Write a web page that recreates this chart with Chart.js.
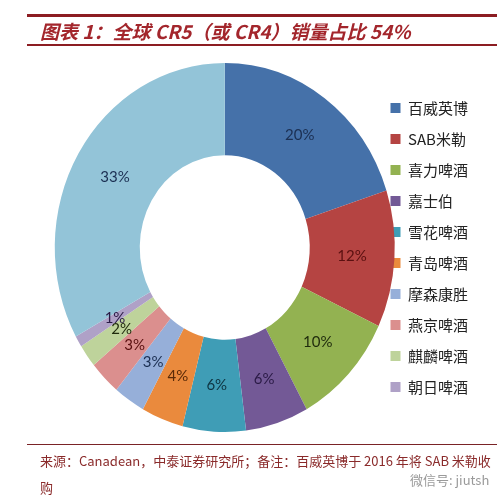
<!DOCTYPE html>
<html>
<head>
<meta charset="utf-8">
<script src="https://cdn.jsdelivr.net/npm/chart.js@4"></script>
<style>
  html, body { margin: 0; padding: 0; background: #fff; }
  #wrap { position: relative; width: 502px; height: 502px; overflow: hidden; }
  #chart { position: absolute; left: 0; top: 0; }
  #title {
    position: absolute; left: 27px; top: 14px; width: 457px; height: 27px;
    border-top: 3px solid #8c1d22; border-bottom: 2px solid #8c1d22;
    font: italic bold 19px "Noto Sans CJK SC", sans-serif; color: #a3262c;
    line-height: 27px; padding-left: 13px; box-sizing: content-box;
  }
  #foot {
    position: absolute; left: 27px; top: 444px; width: 457px;
    border-top: 1px solid #7a2326;
    font: 13px "Noto Sans CJK SC", sans-serif; color: #8a2a2a;
    line-height: 27px; padding-left: 13px; padding-top: 2px;
  }
  #mark {
    position: absolute; left: 410px; top: 470px;
    font: 13px "Noto Sans CJK SC", sans-serif; color: #9a9a9a;
  }
</style>
</head>
<body>
<div id="wrap">
  <canvas id="chart" width="502" height="502"></canvas>
  <div id="title">图表 1：全球 CR5（或 CR4）销量占比 54%</div>
  <div id="foot">来源：Canadean，中泰证券研究所；备注：百威英博于 2016 年将 SAB 米勒收<br>购</div>
  <div id="mark">微信号: jiutsh</div>
</div>
<script>
// shares in percent, clockwise from 12 o'clock
var brands = "百威英博, SAB米勒, 喜力啤酒, 嘉士伯, 雪花啤酒, 青岛啤酒, 摩森康胜, 燕京啤酒, 麒麟啤酒, 朝日啤酒".split(", ");
var others = "其他";
var shares = [20, 12, 10, 6, 6, 4, 3, 3, 2, 1, 33];
var colors = ['#4571a9', '#b54442', '#93b251', '#735996', '#3f9db6', '#ea8a3d',
              '#96afd9', '#db8f8e', '#bed39b', '#afa1c7', '#93c4d8'];
var labelColors = ['#1b2f52', '#5a1010', '#1f2a0c', '#2a1a45', '#0d3340', '#5a2a08',
                   '#1b2f52', '#5a1010', '#1f2a0c', '#2a1a45', '#1b2f52'];

var squashX = 170 / 184.5; // reference ring is a bit taller than wide

var ellipse = {
  id: 'ellipse',
  beforeDatasetsDraw: function(chart) {
    var arc = chart.getDatasetMeta(0).data[0];
    var ctx = chart.ctx;
    ctx.save();
    ctx.translate(arc.x, arc.y);
    ctx.scale(squashX, 1);
    ctx.translate(-arc.x, -arc.y);
  },
  afterDatasetsDraw: function(chart) {
    var ctx = chart.ctx;
    ctx.restore();
    var meta = chart.getDatasetMeta(0);
    ctx.save();
    ctx.font = '15px Lato, "Open Sans", sans-serif';
    ctx.textAlign = 'center';
    ctx.textBaseline = 'middle';
    meta.data.forEach(function(a, i) {
      var p = a.tooltipPosition();
      var x = a.x + (p.x - a.x) * squashX;
      ctx.fillStyle = labelColors[i];
      ctx.fillText(shares[i] + '%', x, p.y);
    });
    ctx.restore();
  }
};

new Chart(document.getElementById('chart'), {
  type: 'doughnut',
  data: {
    labels: brands.concat([others]),
    datasets: [{
      data: shares,
      backgroundColor: colors,
      borderWidth: 0,
      radius: 184.5,
      cutout: '50%',
      clip: false
    }]
  },
  options: {
    responsive: false,
    animation: false,
    layout: { padding: { left: 75, right: 24, top: 60, bottom: 67 } },
    plugins: {
      tooltip: { enabled: false },
      legend: {
        position: 'right',
        labels: {
          boxWidth: 10, boxHeight: 10, padding: 16,
          color: '#222',
          font: { size: 15, family: '"Noto Sans CJK SC", sans-serif' },
          filter: function(item) { return item.index < brands.length; }
        }
      }
    }
  },
  plugins: [ellipse]
});
</script>
</body>
</html>
